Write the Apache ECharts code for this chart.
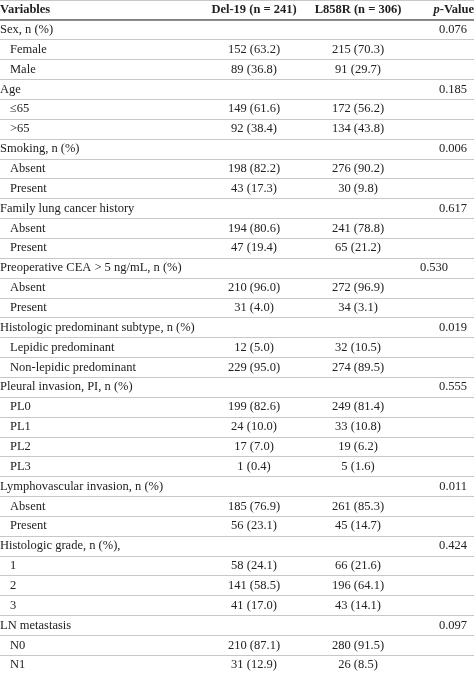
<!DOCTYPE html>
<html><head><meta charset="utf-8">
<script src="https://cdn.jsdelivr.net/npm/echarts@6/dist/echarts.min.js"></script>
<style>html,body{margin:0;padding:0;background:#fff}#c{width:474px;height:675px}</style>
</head><body><div id="c"></div>
<script>
const labels=["Variables","Sex, n (%)","Female","Male","Age","≤65",">65","Smoking, n (%)","Absent","Present","Family lung cancer history","Absent","Present","Preoperative CEA > 5 ng/mL, n (%)","Absent","Present","Histologic predominant subtype, n (%)","Lepidic predominant","Non-lepidic predominant","Pleural invasion, PI, n (%)","PL0","PL1","PL2","PL3","Lymphovascular invasion, n (%)","Absent","Present","Histologic grade, n (%),","1","2","3","LN metastasis","N0","N1"];
const isSub=[0,0,1,1,0,1,1,0,1,1,0,1,1,0,1,1,0,1,1,0,1,1,1,1,0,1,1,0,1,1,1,0,1,1];
const del19=["Del-19 (n = 241)","","152 (63.2)","89 (36.8)","","149 (61.6)","92 (38.4)","","198 (82.2)","43 (17.3)","","194 (80.6)","47 (19.4)","","210 (96.0)","31 (4.0)","","12 (5.0)","229 (95.0)","","199 (82.6)","24 (10.0)","17 (7.0)","1 (0.4)","","185 (76.9)","56 (23.1)","","58 (24.1)","141 (58.5)","41 (17.0)","","210 (87.1)","31 (12.9)"];
const l858r=["L858R (n = 306)","","215 (70.3)","91 (29.7)","","172 (56.2)","134 (43.8)","","276 (90.2)","30 (9.8)","","241 (78.8)","65 (21.2)","","272 (96.9)","34 (3.1)","","32 (10.5)","274 (89.5)","","249 (81.4)","33 (10.8)","19 (6.2)","5 (1.6)","","261 (85.3)","45 (14.7)","","66 (21.6)","196 (64.1)","43 (14.1)","","280 (91.5)","26 (8.5)"];
const pval=["p-Value","0.076","","","0.185","","","0.006","","","0.617","","","0.530","","","0.019","","","0.555","","","","","0.011","","","0.424","","","","0.097","",""];
const rows=labels.map((_,i)=>'r'+i);
const FONT='"Liberation Serif", serif';
const chart=echarts.init(document.getElementById('c'));
chart.setOption({
  animation:false,
  grid:{left:0,right:0,top:-5,bottom:0},
  xAxis:{type:'value',min:0,max:474,show:false},
  yAxis:{type:'category',data:rows,inverse:true,boundaryGap:true,axisLabel:{show:false},axisTick:{show:false},axisLine:{show:false},
    splitLine:{show:true,lineStyle:{color:'#c8c8c8',width:1}}},
  series:[{
    type:'custom',
    data:rows.map((r,i)=>[i]),
    encode:{y:0},
    renderItem:function(params,api){
      const i=api.value(0);
      const y=api.coord([0,rows[i]])[1];
      const bold=i===0;
      const base={fontFamily:FONT,fontSize:12.5,fill:'#222',fontWeight:bold?'bold':'normal',verticalAlign:'middle'};
      const ch=[];
      ch.push({type:'text',style:Object.assign({},base,{text:labels[i],x:isSub[i]?10:0,y:y,align:'left'})});
      if(del19[i])ch.push({type:'text',style:Object.assign({},base,{text:del19[i],x:api.coord([254,rows[i]])[0],y:y,align:'center'})});
      if(l858r[i])ch.push({type:'text',style:Object.assign({},base,{text:l858r[i],x:api.coord([358,rows[i]])[0],y:y,align:'center'})});
      if(pval[i]){
        if(i===0){
          ch.push({type:'text',style:Object.assign({},base,{text:'',rich:{},x:474,y:y,align:'right'})});
          ch.push({type:'text',style:{text:'{a|p}{b|-Value}',x:474,y:y,align:'right',verticalAlign:'middle',
            rich:{a:{fontFamily:FONT,fontSize:12.5,fontStyle:'italic',fontWeight:'bold',fill:'#222'},b:{fontFamily:FONT,fontSize:12.5,fontWeight:'bold',fill:'#222'}}}});
        } else {
          const xr=(i===13)?448:467;
          ch.push({type:'text',style:Object.assign({},base,{text:pval[i],x:xr,y:y,align:'right'})});
        }
      }
      if(i===0)ch.push({type:'line',shape:{x1:0,y1:y+10,x2:474,y2:y+10},style:{stroke:'#555',lineWidth:1.2}});
      return {type:'group',children:ch};
    }
  }]
});
</script></body></html>
